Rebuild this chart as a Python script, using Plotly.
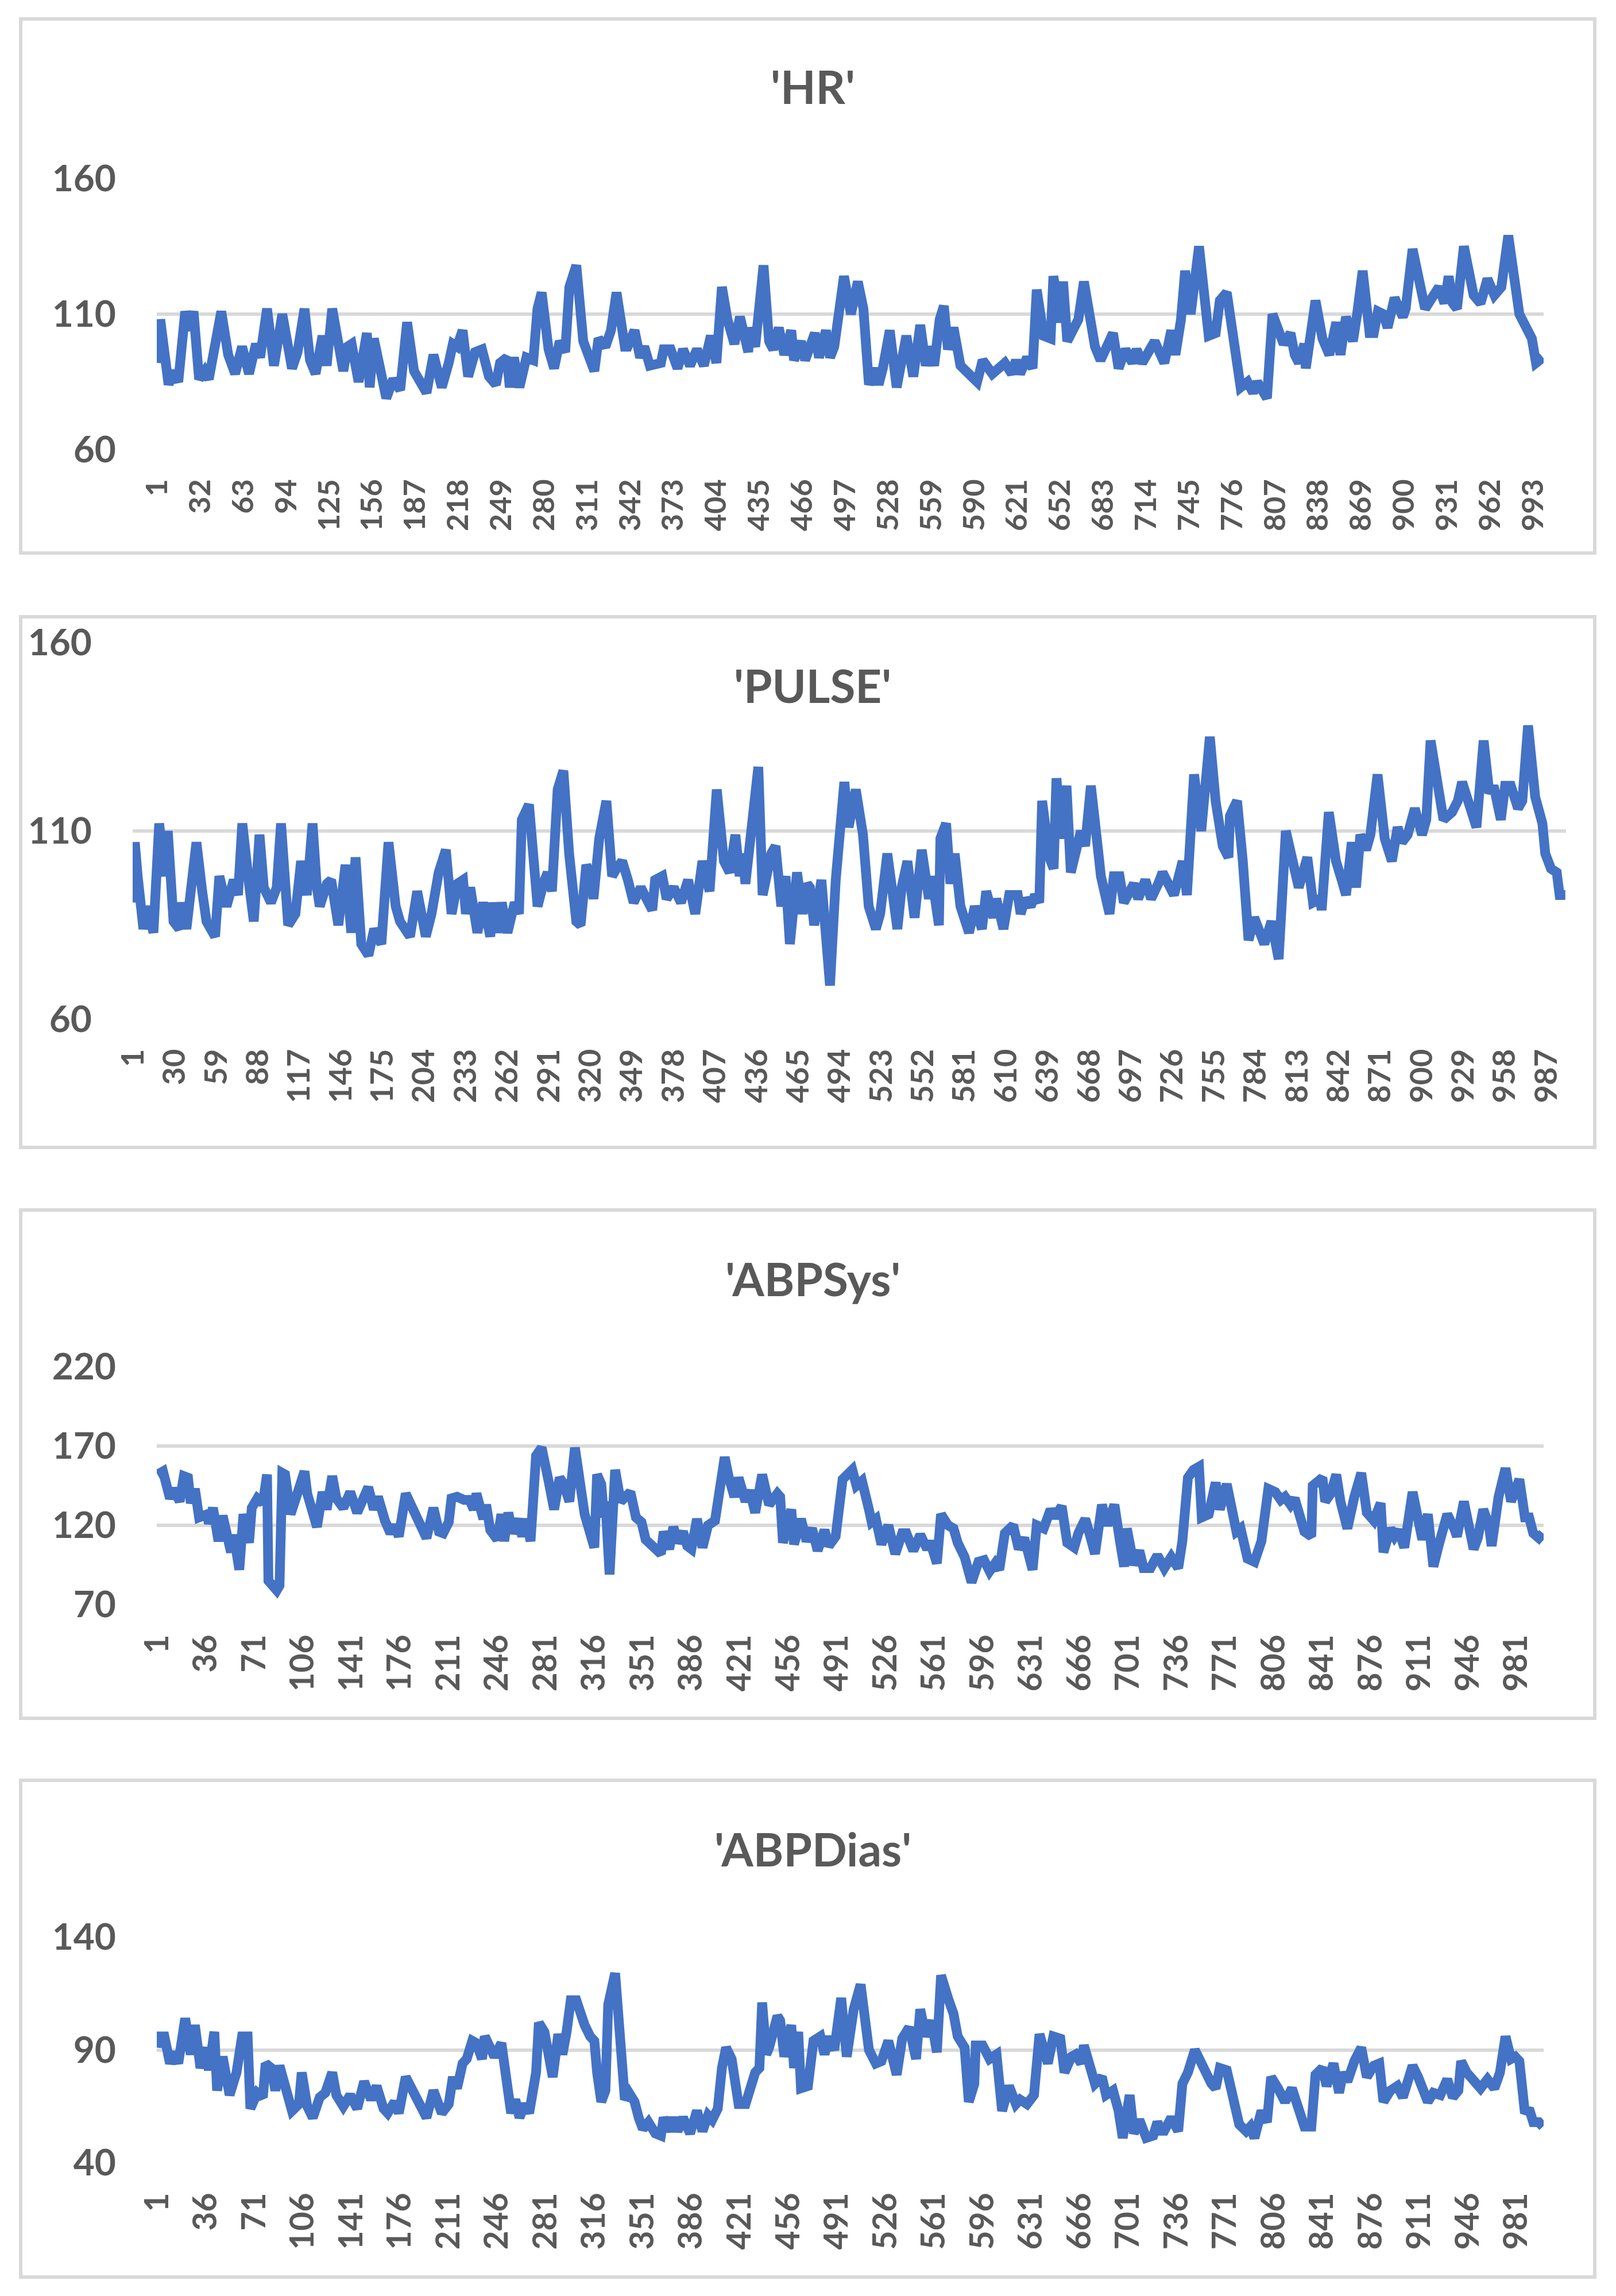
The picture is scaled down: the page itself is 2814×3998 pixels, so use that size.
import plotly.graph_objects as go

# ---------------- data (sample index, value) ----------------
hr_idx = [1, 3, 9, 12, 16, 21, 24, 27, 31, 35, 38, 41, 47, 52, 57, 62, 67, 72, 75, 80, 85, 91, 95, 98, 102, 107, 111, 115, 120, 123, 127, 132, 135, 138, 141, 146, 152, 154, 157, 166, 171, 176, 181, 186, 191, 195, 200, 206, 211, 214, 217, 221, 225, 230, 235, 240, 245, 248, 253, 255, 258, 262, 267, 272, 275, 278, 283, 287, 291, 295, 298, 303, 308, 313, 316, 319, 324, 328, 332, 338, 340, 345, 349, 352, 356, 364, 366, 371, 376, 380, 385, 390, 395, 400, 404, 408, 412, 417, 421, 427, 428, 432, 438, 442, 445, 449, 453, 458, 460, 465, 468, 475, 478, 483, 486, 489, 496, 501, 506, 510, 514, 518, 521, 524, 529, 534, 538, 541, 546, 551, 555, 558, 561, 565, 568, 571, 575, 580, 588, 592, 596, 603, 612, 617, 620, 623, 628, 632, 635, 640, 645, 647, 652, 654, 657, 662, 665, 669, 674, 677, 681, 685, 690, 694, 699, 704, 707, 711, 715, 720, 727, 732, 735, 739, 742, 746, 752, 756, 759, 764, 767, 772, 776, 779, 782, 787, 791, 794, 801, 805, 809, 813, 818, 821, 824, 828, 829, 836, 841, 846, 851, 854, 858, 863, 866, 870, 875, 878, 881, 885, 888, 893, 899, 901, 906, 910, 915, 920, 925, 929, 932, 935, 938, 943, 947, 950, 955, 960, 965, 970, 975, 980, 983, 987, 990, 992, 995, 1000]
hr_val = [92, 108, 84, 89, 85, 111, 104, 111, 86, 89, 86, 93, 111, 95, 88, 98, 88, 99, 94, 112, 91, 110, 97, 90, 96, 112, 93, 88, 102, 91, 112, 96, 89, 98, 99, 85, 103, 83, 101, 79, 86, 82, 107, 89, 84, 81, 95, 83, 92, 99, 98, 104, 87, 96, 97, 87, 84, 92, 94, 83, 94, 83, 94, 93, 112, 118, 97, 90, 100, 96, 120, 128, 100, 94, 89, 101, 98, 104, 118, 98, 98, 104, 94, 98, 91, 92, 97, 97, 90, 97, 91, 97, 91, 102, 92, 120, 108, 99, 109, 96, 105, 98, 128, 100, 97, 105, 95, 104, 93, 100, 93, 103, 94, 104, 94, 98, 124, 110, 122, 112, 84, 90, 84, 90, 104, 83, 96, 102, 87, 106, 91, 98, 91, 108, 113, 97, 105, 91, 87, 85, 93, 88, 92, 88, 93, 88, 94, 90, 119, 102, 101, 124, 107, 122, 100, 106, 108, 122, 105, 98, 93, 97, 103, 90, 97, 92, 97, 92, 96, 100, 92, 104, 95, 108, 126, 110, 135, 117, 102, 103, 115, 118, 102, 92, 83, 85, 81, 85, 79, 110, 104, 99, 103, 95, 92, 99, 90, 115, 101, 95, 107, 95, 109, 100, 110, 126, 103, 103, 111, 110, 105, 116, 109, 112, 134, 122, 112, 116, 120, 114, 124, 114, 112, 135, 122, 117, 114, 123, 117, 120, 139, 122, 110, 106, 102, 101, 92, 94]

pulse_idx = [1, 2, 4, 8, 11, 15, 19, 23, 25, 29, 33, 35, 38, 41, 45, 49, 52, 58, 61, 66, 71, 74, 77, 82, 85, 89, 92, 97, 101, 104, 107, 109, 114, 118, 122, 126, 129, 131, 136, 139, 144, 149, 153, 156, 160, 165, 169, 174, 179, 184, 187, 194, 199, 205, 209, 214, 219, 223, 227, 231, 233, 236, 241, 245, 250, 252, 255, 258, 262, 267, 270, 272, 277, 280, 283, 287, 290, 293, 297, 301, 305, 310, 313, 317, 320, 322, 326, 331, 335, 338, 342, 346, 350, 355, 358, 363, 365, 370, 373, 378, 383, 388, 393, 398, 403, 408, 413, 417, 421, 424, 426, 428, 437, 440, 446, 449, 453, 456, 459, 464, 468, 471, 473, 476, 481, 487, 491, 497, 500, 505, 510, 514, 519, 522, 527, 534, 537, 541, 546, 551, 556, 558, 563, 564, 568, 571, 574, 578, 584, 588, 593, 596, 601, 603, 608, 612, 618, 620, 623, 627, 630, 633, 635, 640, 643, 645, 648, 652, 655, 659, 662, 665, 669, 674, 676, 682, 685, 689, 692, 699, 702, 707, 711, 716, 719, 723, 727, 733, 736, 741, 746, 752, 756, 761, 765, 766, 771, 775, 779, 783, 787, 790, 795, 800, 805, 810, 814, 820, 824, 829, 830, 835, 840, 844, 847, 851, 854, 857, 861, 864, 869, 874, 879, 883, 886, 890, 895, 900, 903, 906, 911, 915, 921, 925, 928, 933, 938, 943, 947, 950, 955, 958, 962, 967, 970, 974, 979, 984, 986, 990, 994, 996, 1000]
pulse_val = [91, 107, 98, 84, 90, 83, 112, 98, 110, 86, 84, 91, 84, 96, 107, 94, 86, 82, 98, 90, 97, 93, 112, 95, 86, 109, 95, 91, 95, 112, 95, 85, 88, 102, 93, 112, 95, 90, 96, 97, 85, 101, 83, 103, 80, 77, 84, 80, 107, 90, 86, 82, 94, 82, 88, 99, 105, 88, 96, 97, 88, 95, 83, 91, 82, 91, 83, 91, 83, 91, 88, 113, 117, 100, 90, 96, 99, 94, 121, 126, 104, 86, 85, 101, 98, 92, 108, 118, 98, 100, 102, 97, 91, 95, 93, 89, 97, 98, 92, 95, 91, 97, 88, 102, 94, 121, 102, 99, 109, 98, 104, 96, 127, 93, 104, 106, 90, 98, 80, 99, 88, 96, 95, 85, 97, 69, 97, 123, 111, 121, 109, 90, 84, 88, 104, 84, 95, 102, 87, 105, 92, 98, 85, 108, 112, 96, 104, 90, 83, 90, 84, 94, 87, 92, 84, 93, 93, 88, 92, 90, 93, 91, 118, 103, 100, 124, 108, 122, 99, 107, 110, 106, 122, 105, 98, 88, 98, 98, 91, 96, 92, 97, 92, 96, 99, 96, 93, 102, 93, 125, 110, 135, 118, 106, 103, 114, 118, 102, 81, 87, 83, 80, 86, 76, 110, 103, 95, 103, 91, 92, 89, 115, 102, 97, 93, 107, 95, 109, 105, 109, 125, 108, 102, 111, 107, 109, 116, 109, 113, 134, 120, 113, 115, 118, 123, 117, 111, 134, 120, 122, 113, 122, 122, 116, 118, 138, 119, 112, 104, 100, 99, 93, 93]

sys_idx = [1, 5, 10, 13, 17, 20, 23, 25, 28, 31, 37, 38, 41, 45, 48, 51, 54, 56, 60, 63, 67, 69, 73, 77, 80, 81, 84, 87, 89, 91, 93, 97, 100, 103, 107, 109, 112, 116, 120, 123, 127, 130, 135, 140, 145, 149, 153, 157, 160, 165, 169, 172, 175, 180, 184, 189, 192, 195, 200, 204, 207, 211, 213, 217, 222, 226, 229, 231, 236, 238, 241, 246, 249, 251, 254, 257, 261, 264, 267, 270, 274, 278, 283, 284, 287, 291, 294, 298, 302, 306, 309, 313, 316, 318, 321, 323, 324, 327, 331, 335, 338, 342, 346, 350, 353, 358, 364, 366, 370, 373, 376, 380, 383, 386, 390, 394, 398, 403, 410, 413, 417, 420, 425, 428, 432, 437, 442, 448, 450, 452, 458, 460, 465, 469, 473, 477, 482, 485, 490, 495, 502, 505, 509, 514, 516, 519, 523, 528, 533, 538, 541, 546, 551, 556, 558, 563, 566, 571, 575, 578, 583, 588, 593, 597, 601, 605, 608, 612, 618, 622, 626, 632, 635, 640, 645, 648, 653, 657, 662, 665, 670, 673, 677, 682, 686, 691, 693, 695, 698, 700, 705, 709, 712, 717, 722, 727, 732, 737, 740, 744, 748, 752, 754, 759, 764, 767, 772, 776, 779, 782, 787, 792, 797, 802, 807, 811, 814, 818, 821, 824, 828, 833, 834, 841, 843, 847, 851, 854, 859, 864, 869, 873, 878, 883, 885, 890, 893, 896, 900, 906, 910, 913, 917, 921, 925, 928, 931, 936, 938, 943, 947, 950, 953, 957, 961, 963, 968, 973, 977, 980, 983, 987, 990, 993, 997, 1000]
sys_val = [152, 154, 137, 143, 135, 151, 150, 134, 143, 125, 127, 121, 131, 110, 126, 115, 103, 114, 92, 127, 109, 131, 137, 134, 152, 85, 82, 79, 82, 153, 152, 127, 135, 142, 154, 140, 128, 119, 141, 130, 151, 137, 131, 141, 128, 135, 144, 130, 138, 123, 115, 120, 113, 140, 133, 121, 118, 112, 131, 116, 115, 122, 137, 138, 136, 136, 130, 140, 124, 133, 117, 111, 127, 110, 128, 115, 124, 113, 124, 110, 164, 169, 148, 140, 130, 150, 146, 135, 169, 145, 127, 115, 106, 152, 146, 125, 135, 89, 155, 135, 137, 141, 125, 122, 111, 106, 102, 116, 105, 119, 109, 116, 107, 105, 124, 106, 120, 123, 163, 150, 138, 150, 135, 142, 128, 152, 133, 140, 138, 109, 130, 108, 124, 110, 118, 104, 117, 107, 113, 149, 155, 145, 148, 130, 122, 124, 108, 120, 102, 115, 115, 104, 114, 105, 110, 96, 127, 120, 118, 109, 100, 84, 97, 98, 91, 96, 92, 115, 120, 105, 112, 92, 120, 118, 130, 125, 132, 109, 106, 115, 124, 115, 102, 133, 120, 133, 125, 110, 94, 118, 95, 104, 93, 93, 101, 93, 100, 93, 110, 150, 155, 157, 125, 127, 147, 130, 146, 128, 116, 118, 99, 97, 110, 143, 141, 136, 138, 133, 137, 128, 116, 113, 145, 150, 135, 140, 152, 135, 118, 138, 153, 128, 123, 134, 103, 118, 113, 117, 106, 141, 125, 111, 127, 94, 108, 120, 127, 118, 113, 135, 118, 105, 112, 130, 120, 107, 138, 156, 135, 145, 149, 125, 125, 115, 112, 115]

dias_idx = [1, 2, 6, 10, 13, 16, 21, 25, 28, 32, 36, 38, 42, 44, 48, 53, 56, 58, 62, 66, 68, 73, 77, 79, 83, 86, 89, 95, 98, 103, 105, 109, 113, 118, 122, 127, 130, 135, 140, 145, 150, 155, 159, 164, 167, 172, 175, 180, 184, 189, 195, 200, 206, 211, 214, 217, 221, 224, 228, 231, 235, 237, 241, 244, 249, 252, 256, 259, 262, 266, 269, 274, 276, 280, 286, 290, 293, 296, 299, 303, 306, 309, 313, 316, 318, 321, 324, 326, 331, 334, 336, 338, 341, 345, 348, 351, 355, 360, 364, 366, 370, 373, 376, 380, 385, 390, 394, 398, 401, 405, 408, 411, 415, 418, 420, 425, 428, 432, 435, 437, 440, 442, 448, 450, 453, 458, 460, 463, 465, 470, 474, 479, 482, 485, 489, 494, 498, 503, 508, 513, 514, 519, 523, 528, 531, 534, 538, 543, 548, 551, 555, 559, 563, 566, 571, 575, 578, 583, 586, 590, 591, 596, 601, 606, 610, 615, 620, 623, 628, 633, 637, 640, 643, 647, 652, 655, 660, 663, 667, 669, 673, 677, 682, 685, 690, 694, 697, 702, 705, 709, 714, 719, 722, 726, 732, 737, 740, 744, 749, 752, 756, 761, 764, 767, 772, 776, 781, 786, 789, 792, 797, 801, 804, 809, 814, 819, 823, 828, 833, 836, 841, 844, 849, 853, 856, 859, 864, 869, 873, 878, 882, 885, 890, 895, 899, 903, 906, 910, 913, 917, 921, 926, 931, 935, 939, 941, 945, 950, 955, 960, 965, 969, 973, 977, 980, 983, 987, 990, 993, 997, 1000]
dias_val = [91, 96, 96, 84, 89, 84, 104, 88, 101, 82, 91, 81, 98, 72, 87, 70, 76, 80, 96, 96, 64, 71, 69, 84, 82, 72, 83, 70, 63, 66, 80, 65, 60, 69, 71, 80, 70, 65, 70, 64, 76, 68, 74, 64, 62, 67, 62, 78, 73, 66, 60, 72, 62, 66, 78, 73, 84, 86, 94, 93, 86, 96, 90, 87, 93, 80, 62, 68, 60, 66, 62, 80, 102, 98, 78, 97, 88, 98, 112, 112, 105, 101, 96, 94, 80, 67, 72, 110, 124, 100, 75, 68, 71, 67, 60, 55, 58, 53, 52, 60, 54, 60, 54, 60, 53, 63, 54, 61, 59, 64, 82, 91, 86, 75, 66, 66, 73, 80, 82, 111, 88, 91, 105, 103, 87, 101, 82, 98, 73, 74, 94, 96, 88, 96, 90, 113, 87, 108, 119, 100, 90, 84, 85, 94, 88, 79, 95, 100, 86, 108, 96, 103, 89, 123, 113, 106, 96, 91, 67, 75, 92, 92, 86, 88, 63, 74, 66, 68, 66, 70, 97, 90, 84, 96, 95, 80, 87, 88, 84, 92, 82, 75, 78, 70, 72, 63, 51, 70, 53, 59, 51, 52, 58, 53, 60, 54, 75, 80, 90, 86, 83, 75, 73, 82, 81, 70, 57, 54, 56, 51, 63, 58, 78, 73, 67, 73, 65, 56, 56, 79, 82, 74, 84, 71, 80, 76, 85, 91, 78, 83, 84, 67, 72, 74, 69, 79, 83, 78, 72, 67, 71, 70, 77, 69, 72, 85, 80, 76, 73, 77, 73, 80, 96, 86, 87, 85, 62, 64, 58, 58, 56]

titles = ["'HR'", "'PULSE'", "'ABPSys'", "'ABPDias'"]
y_ticks = [[60, 110, 160], [60, 110, 160], [70, 120, 170, 220], [40, 90, 140]]
x_ticks = [list(range(1, 994, 31)), list(range(1, 988, 29)),
           list(range(1, 982, 35)), list(range(1, 982, 35))]
n_points = 1000

# ---------------- layout (pixel geometry of the reference) ----------------
W, H = 2814, 3998
OFF = 8  # page body margin shifts the figure; compensate
def px(x):
    return (x - OFF) / W
def py(y):
    return 1 - (y - OFF) / H

TEXT = "#595959"
GRID = "#D9D9D9"
BLUE = "#4472C4"
FONT = "Lato"

# box (x0, y0, x1, y1), plot x (left, right), y pixel of (min, max) tick, title y
panels = [
    dict(box=(36, 33, 2777, 963), px=(273, 2688), py=(783, 311), ty=150, xfs=52),
    dict(box=(36, 1074, 2777, 1998), px=(231, 2727), py=(1775, 1119), ty=1193, xfs=54),
    dict(box=(36, 2107, 2777, 2992), px=(273, 2688), py=(2794, 2380), ty=2226, xfs=57),
    dict(box=(36, 3100, 2777, 3965), px=(273, 2688), py=(3766, 3373), ty=3219, xfs=57),
]
series = [(hr_idx, hr_val), (pulse_idx, pulse_val), (sys_idx, sys_val), (dias_idx, dias_val)]

fig = go.Figure()
shapes, annotations = [], []
layout = dict(
    template="none",
    width=W, height=H, autosize=False,
    margin=dict(l=0, r=0, t=0, b=0, pad=0, autoexpand=False),
    paper_bgcolor="white", plot_bgcolor="white",
    showlegend=False,
)

for i, (p, (xs, ys)) in enumerate(zip(panels, series)):
    n = "" if i == 0 else str(i + 1)
    fig.add_trace(go.Scatter(
        x=xs, y=ys, mode="lines",
        line=dict(color=BLUE, width=17),
        xaxis="x" + n, yaxis="y" + n, hoverinfo="skip",
    ))
    yt = y_ticks[i]
    layout["xaxis" + n] = dict(
        domain=[px(p["px"][0]), px(p["px"][1])],
        anchor="y" + n,
        range=[0.5, n_points + 0.5],
        tickmode="array",
        tickvals=x_ticks[i],
        ticktext=[str(v) for v in x_ticks[i]],
        tickangle=-90,
        ticks="", ticklabelstandoff=40,
        tickfont=dict(family=FONT, size=p["xfs"], color=TEXT, weight=700),
        showgrid=False, zeroline=False, showline=False, automargin=False,
    )
    layout["yaxis" + n] = dict(
        domain=[py(p["py"][0]), py(p["py"][1])],
        anchor="x" + n,
        range=[yt[0], yt[-1]],
        tickmode="array", tickvals=yt, ticktext=[str(v) for v in yt],
        ticks="", ticklabelstandoff=70,
        tickfont=dict(family=FONT, size=64, color=TEXT, weight=700),
        showgrid=True, gridcolor=GRID, gridwidth=6,
        zeroline=False, showline=False, automargin=False,
    )
    x0, y0, x1, y1 = p["box"]
    shapes.append(dict(type="rect", xref="paper", yref="paper",
                       x0=px(x0), x1=px(x1), y0=py(y1), y1=py(y0),
                       line=dict(color=GRID, width=6), fillcolor="rgba(0,0,0,0)",
                       layer="below"))
    annotations.append(dict(text=titles[i], xref="paper", yref="paper",
                            x=px(W / 2 + OFF), y=py(p["ty"]), xanchor="center", yanchor="middle",
                            showarrow=False,
                            font=dict(family=FONT, size=80, color=TEXT, weight=700)))

layout["shapes"] = shapes
layout["annotations"] = annotations
fig.update_layout(**layout)
fig.write_html("out.html")
